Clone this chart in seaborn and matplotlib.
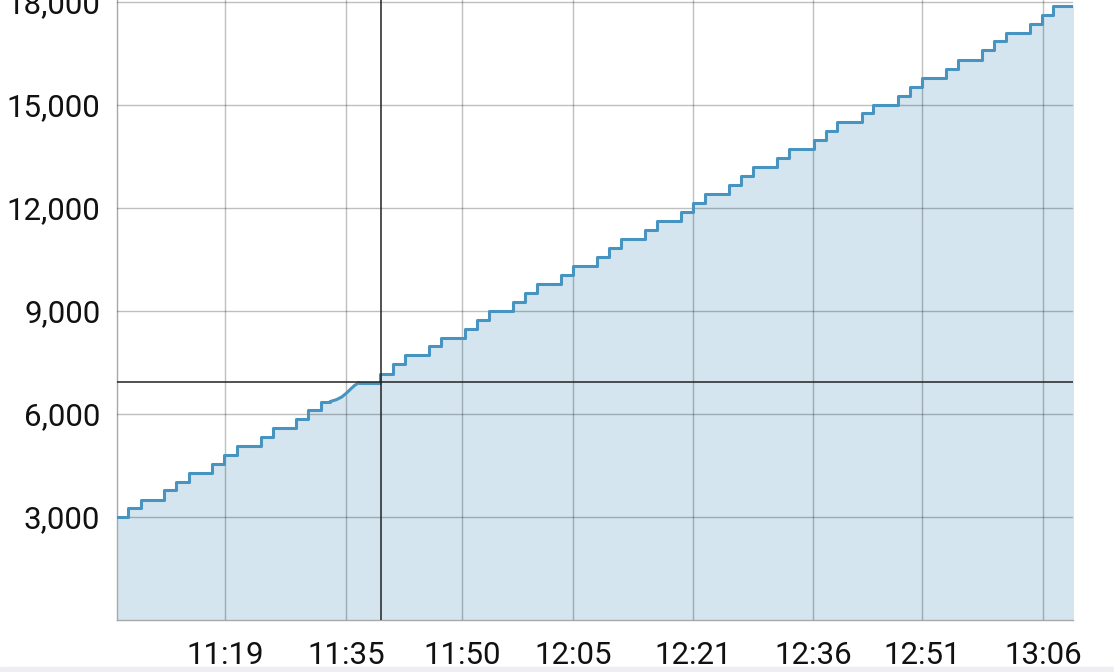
import numpy as np
import pandas as pd
import seaborn as sns
import matplotlib
matplotlib.use('Agg')
import matplotlib.pyplot as plt
from matplotlib.patches import Rectangle
from matplotlib.ticker import FuncFormatter, FixedLocator

# time in minutes after 11:00, cumulative count (step chart)
minutes = [4.86, 6.34, 8.01, 11.05, 12.59, 14.29, 17.34, 18.91, 20.53, 23.71,
           25.24, 28.29, 29.90, 31.53, 32.74, 33.60, 34.30, 34.90, 35.50, 36.00,
           36.50, 39.29, 40.95, 42.56, 45.74, 47.23, 50.45, 51.94, 53.55,
           56.74, 58.27, 59.80, 63.02, 64.55, 67.69, 69.22, 70.83, 74.01, 75.58,
           78.72, 80.29, 81.79, 85.01, 86.54, 88.15, 91.29, 92.86, 96.09, 97.66,
           99.14, 102.34, 103.85, 107.05, 108.66, 110.19, 113.37, 114.90, 118.04, 119.65,
           121.23, 124.37, 125.90, 127.42, 130.0]
values = [3000, 3262, 3494, 3776, 4017, 4279, 4551, 4813, 5054, 5324,
          5585, 5858, 6119, 6361, 6361, 6420, 6500, 6610, 6740, 6840,
          6910, 7175, 7455, 7717, 7978, 8228, 8490, 8751, 9004,
          9265, 9526, 9797, 10058, 10311, 10563, 10825, 11086, 11356, 11618,
          11879, 12141, 12400, 12683, 12944, 13196, 13467, 13718, 13979, 14241,
          14493, 14754, 15016, 15277, 15539, 15800, 16062, 16323, 16593, 16855,
          17106, 17375, 17637, 17899, 17899]
# stretch between these points is interpolated (no steps)
ramp_start, ramp_end = 14, 20

tick_minutes = [19, 34.84, 50.02, 64.55, 80.26, 95.97, 110.24, 126.07]
tick_labels = ['11:19', '11:35', '11:50', '12:05', '12:21', '12:36', '12:51', '13:06']
y_ticks = [3000, 6000, 9000, 12000, 15000, 18000]

cursor_x = 39.42
cursor_y = 6942

line_color = '#4794c1'
fill_color = '#d4e5ef'

df = pd.DataFrame({'minute': minutes, 'count': values})
seg_a = df.iloc[:ramp_start + 1]
seg_b = df.iloc[ramp_start:ramp_end + 1]
seg_c = df.iloc[ramp_end:]

sns.set_style('white')
plt.rcParams['font.family'] = ['Roboto', 'DejaVu Sans']

fig = plt.figure(figsize=(11.14, 6.72), dpi=100)
ax = fig.add_axes([117 / 1114, 52 / 672, (1073 - 117) / 1114, 620 / 672])

# light strip at the very bottom of the screen
fig.patches.append(Rectangle((0, 0), 1, 5 / 672, transform=fig.transFigure,
                             color='#eeeef3', zorder=0))

for seg, step in [(seg_a, 'post'), (seg_b, None), (seg_c, 'post')]:
    ax.fill_between(seg['minute'], seg['count'], step=step, facecolor=fill_color,
                    edgecolor=fill_color, linewidth=0.8, zorder=1)
    sns.lineplot(data=seg, x='minute', y='count', ax=ax, color=line_color,
                 drawstyle='steps-post' if step else 'default',
                 linewidth=2.2, zorder=3, solid_joinstyle='round')

ax.set_xlim(4.86, 130.0)
ax.set_ylim(0, 18060)

ax.xaxis.set_major_locator(FixedLocator(tick_minutes))
ax.set_xticklabels(tick_labels)
ax.set_yticks(y_ticks)
ax.yaxis.set_major_formatter(FuncFormatter(lambda v, p: f'{int(v):,}'))
ax.tick_params(axis='both', length=0, labelsize=22.5, colors='#111111')
ax.tick_params(axis='y', pad=12)
ax.tick_params(axis='x', pad=15)

ax.set_axisbelow(False)
ax.grid(True, color='black', alpha=0.25, linewidth=1.0)
for side in ['top', 'right']:
    ax.spines[side].set_visible(False)
for side in ['left', 'bottom']:
    ax.spines[side].set_color('#a8a8a8')
    ax.spines[side].set_linewidth(1.0)

# crosshair
ax.axvline(cursor_x, color='#222222', linewidth=1.1, zorder=4)
ax.axhline(cursor_y, color='#222222', linewidth=1.1, zorder=4)

ax.set_xlabel(None)
ax.set_ylabel(None)

fig.savefig('out.png', dpi=100)
